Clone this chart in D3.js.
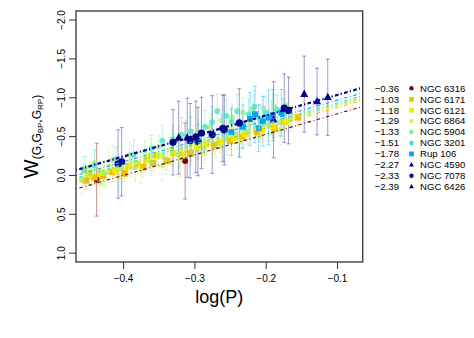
<!DOCTYPE html>
<html>
<head>
<meta charset="utf-8">
<script src="https://cdn.jsdelivr.net/npm/d3@7"></script>
<style>
  body { margin: 0; background: #fff; }
  text { font-family: "Liberation Sans", Arial, Helvetica, sans-serif; fill: #000; }
</style>
</head>
<body>
<svg id="chart" width="474" height="338"></svg>
<script>
// Globular clusters, their metallicity and drawing style
const clusterNames  = ["NGC 6316", "NGC 6171", "NGC 6121", "NGC 6864", "NGC 5904",
                       "NGC 3201", "Rup 106", "NGC 4590", "NGC 7078", "NGC 6426"];
const clusterFeH    = [-0.36, -1.03, -1.18, -1.29, -1.33, -1.51, -1.78, -2.27, -2.33, -2.39];
const clusterColors = ["#7f0000", "#f0c000", "#eeee00", "#c4f07c", "#8fe88f",
                       "#3ee0c4", "#12a2ea", "#0000aa", "#06068e", "#00007a"];
const clusterShapes = ["circle", "square", "square", "circle", "circle",
                       "circle", "square", "triangle", "circle", "triangle"];

// Period–Wesenheit fit per cluster: W = fitZero + fitSlope * log(P)
const fitZero  = [-1.05, -1.13, -1.15, -1.165, -1.17, -1.19, -1.225, -1.285, -1.293, -1.30];
const fitSlope = -2.64;

// Axis ticks
const xTicks = [-0.4, -0.3, -0.2, -0.1];
const yTicks = [-2.0, -1.5, -1.0, -0.5, 0.0, 0.5, 1.0];

// Stars: [log(P), W, error]
const ngc6316 = [[-0.437, 0.06, 0.47], [-0.313, -0.18, 0.49]];
const ngc6171 = [
  [-0.452, 0.07, 0.12], [-0.440, 0.03, 0.10], [-0.428, 0.01, 0.14], [-0.415, -0.04, 0.12],
  [-0.398, -0.02, 0.10], [-0.372, -0.10, 0.13], [-0.358, -0.15, 0.11], [-0.338, -0.18, 0.12],
  [-0.305, -0.28, 0.10], [-0.272, -0.38, 0.12], [-0.250, -0.44, 0.11], [-0.233, -0.48, 0.13],
  [-0.212, -0.55, 0.10], [-0.188, -0.60, 0.12], [-0.155, -0.74, 0.11]];
const ngc6121 = [
  [-0.447, -0.02, 0.15], [-0.430, -0.03, 0.14], [-0.410, -0.06, 0.16], [-0.392, -0.11, 0.12],
  [-0.380, -0.14, 0.15], [-0.366, -0.20, 0.13], [-0.352, -0.25, 0.14], [-0.330, -0.28, 0.15],
  [-0.318, -0.25, 0.12], [-0.296, -0.36, 0.16], [-0.284, -0.40, 0.14], [-0.264, -0.42, 0.13],
  [-0.244, -0.48, 0.15], [-0.228, -0.53, 0.14], [-0.205, -0.58, 0.12], [-0.190, -0.63, 0.15],
  [-0.172, -0.68, 0.14]];
const ngc6864 = [
  [-0.458, 0.06, 0.18], [-0.445, -0.06, 0.20], [-0.432, 0.10, 0.16], [-0.420, -0.12, 0.22],
  [-0.405, 0.02, 0.18], [-0.388, -0.18, 0.20], [-0.375, -0.06, 0.17], [-0.362, -0.26, 0.21],
  [-0.345, -0.12, 0.19], [-0.333, -0.34, 0.18], [-0.320, -0.20, 0.22], [-0.302, -0.44, 0.20],
  [-0.290, -0.28, 0.17], [-0.276, -0.52, 0.21], [-0.262, -0.36, 0.19], [-0.248, -0.60, 0.18],
  [-0.236, -0.44, 0.22], [-0.222, -0.66, 0.20], [-0.208, -0.50, 0.17], [-0.195, -0.72, 0.21],
  [-0.180, -0.58, 0.19], [-0.165, -0.78, 0.18]];
const ngc5904 = [
  [-0.452, -0.10, 0.14], [-0.440, -0.16, 0.16], [-0.426, -0.03, 0.15], [-0.414, -0.20, 0.18],
  [-0.402, -0.08, 0.13], [-0.391, -0.26, 0.16], [-0.383, -0.10, 0.19], [-0.370, -0.30, 0.15],
  [-0.360, -0.16, 0.17], [-0.350, -0.36, 0.14], [-0.341, -0.20, 0.18], [-0.331, -0.42, 0.16],
  [-0.322, -0.26, 0.15], [-0.312, -0.50, 0.20], [-0.304, -0.30, 0.17], [-0.295, -0.56, 0.15],
  [-0.286, -0.34, 0.19], [-0.278, -0.62, 0.16], [-0.270, -0.40, 0.18], [-0.262, -0.70, 0.15],
  [-0.255, -0.46, 0.20], [-0.247, -0.74, 0.17], [-0.240, -0.50, 0.16], [-0.232, -0.80, 0.19],
  [-0.225, -0.55, 0.15], [-0.218, -0.84, 0.18], [-0.210, -0.60, 0.17], [-0.203, -0.86, 0.16],
  [-0.196, -0.64, 0.20], [-0.188, -0.88, 0.15], [-0.180, -0.68, 0.18], [-0.172, -0.90, 0.17],
  [-0.165, -0.72, 0.16]];
const ngc3201 = [
  [-0.455, -0.06, 0.18], [-0.440, -0.12, 0.20], [-0.410, -0.20, 0.16], [-0.385, -0.26, 0.19],
  [-0.360, -0.34, 0.17], [-0.345, -0.44, 0.20], [-0.330, -0.46, 0.18], [-0.318, -0.52, 0.22],
  [-0.305, -0.56, 0.19], [-0.295, -0.48, 0.17], [-0.285, -0.62, 0.21], [-0.275, -0.68, 0.20],
  [-0.268, -0.82, 0.22], [-0.262, -0.60, 0.18], [-0.255, -0.76, 0.21], [-0.248, -0.68, 0.19],
  [-0.240, -0.82, 0.22], [-0.232, -0.64, 0.18], [-0.224, -0.78, 0.20], [-0.216, -0.88, 0.21],
  [-0.208, -0.72, 0.19], [-0.200, -0.80, 0.20], [-0.192, -0.74, 0.22], [-0.184, -0.84, 0.19],
  [-0.176, -0.78, 0.20]];
const rup106 = [
  [-0.248, -0.55, 0.30], [-0.232, -0.62, 0.28], [-0.222, -0.72, 0.34], [-0.215, -0.78, 0.36],
  [-0.210, -0.60, 0.30], [-0.204, -0.69, 0.32], [-0.196, -0.74, 0.35], [-0.190, -0.77, 0.33],
  [-0.178, -0.80, 0.30]];
const ngc4590 = [[-0.310, -0.48, 0.51], [-0.189, -0.71, 0.49], [-0.128, -0.945, 0.43]];
const ngc7078 = [
  [-0.407, -0.14, 0.44], [-0.402, -0.17, 0.44], [-0.330, -0.42, 0.42], [-0.306, -0.44, 0.48],
  [-0.298, -0.49, 0.46], [-0.295, -0.43, 0.44], [-0.290, -0.54, 0.46], [-0.275, -0.52, 0.50],
  [-0.260, -0.60, 0.43], [-0.258, -0.58, 0.45], [-0.237, -0.67, 0.44], [-0.174, -0.86, 0.44],
  [-0.168, -0.83, 0.43]];
const ngc6426 = [[-0.322, -0.48, 0.47], [-0.146, -1.04, 0.49], [-0.113, -1.00, 0.49]];

const clusterStars = [ngc6316, ngc6171, ngc6121, ngc6864, ngc5904,
                      ngc3201, rup106, ngc4590, ngc7078, ngc6426];

// ---- layout ----
const svg = d3.select("#chart");
const plot = { left: 76, right: 362.7, top: 11, bottom: 262 };

const x = d3.scaleLinear().domain([-0.466, -0.064]).range([plot.left, plot.right]);
const y = d3.scaleLinear().domain([1.12, -2.11]).range([plot.bottom, plot.top]);

svg.append("defs").append("clipPath").attr("id", "plotClip")
  .append("rect").attr("x", plot.left).attr("y", plot.top)
  .attr("width", plot.right - plot.left).attr("height", plot.bottom - plot.top);

const body = svg.append("g").attr("clip-path", "url(#plotClip)");

// Symbol generators (pch 15/16/17 style)
function symbolPath(shape, s) {
  if (shape === "square") return `M${-s},${-s}h${2 * s}v${2 * s}h${-2 * s}Z`;
  if (shape === "triangle") return `M0,${-s * 1.15}L${s},${s * 0.7}L${-s},${s * 0.7}Z`;
  return d3.symbol(d3.symbolCircle, Math.PI * s * s)();
}
const markSize = [3.0, 3.3, 3.3, 2.7, 2.7, 2.9, 3.0, 4.0, 3.6, 4.0];
const markAlpha = [1, 1, 1, 0.7, 0.7, 0.75, 1, 1, 1, 1];
const barAlpha  = [0.45, 0.3, 0.3, 0.35, 0.35, 0.35, 0.4, 0.4, 0.4, 0.4];

// Error bars
clusterStars.forEach((stars, i) => {
  const g = body.append("g")
    .attr("stroke", clusterColors[i]).attr("stroke-opacity", barAlpha[i])
    .attr("stroke-width", 1).attr("fill", "none");
  g.selectAll("path").data(stars).join("path")
    .attr("d", d => {
      const px = x(d[0]), y0 = y(d[1] - d[2]), y1 = y(d[1] + d[2]);
      return `M${px},${y0}V${y1}M${px - 2},${y0}H${px + 2}M${px - 2},${y1}H${px + 2}`;
    });
});

// Stars
clusterStars.forEach((stars, i) => {
  body.append("g").selectAll("path").data(stars).join("path")
    .attr("transform", d => `translate(${x(d[0])},${y(d[1])})`)
    .attr("d", symbolPath(clusterShapes[i], markSize[i]))
    .attr("fill", clusterColors[i])
    .attr("fill-opacity", markAlpha[i]);
});

// Fitted relations
const [xa, xb] = x.domain();
clusterNames.forEach((name, i) => {
  body.append("line")
    .attr("x1", x(xa)).attr("y1", y(fitZero[i] + fitSlope * xa))
    .attr("x2", x(xb)).attr("y2", y(fitZero[i] + fitSlope * xb))
    .attr("stroke", clusterColors[i]).attr("stroke-width", 1.1)
    .attr("stroke-dasharray", "1,2.5,3.5,2.5");
});

// Frame
svg.append("rect")
  .attr("x", plot.left).attr("y", plot.top)
  .attr("width", plot.right - plot.left).attr("height", plot.bottom - plot.top)
  .attr("fill", "none").attr("stroke", "#333").attr("stroke-width", 1.3);

// Axes
const fmt1 = d3.format(".1f");
const fmt2 = d3.format(".2f");
const xAxis = svg.append("g").attr("transform", `translate(0,${plot.bottom})`)
  .call(d3.axisBottom(x).tickValues(xTicks).tickSize(7).tickPadding(6).tickFormat(fmt1));
xAxis.select(".domain").remove();
xAxis.selectAll("line").attr("stroke", "#333");
xAxis.selectAll("text").attr("font-size", 10).attr("font-family", "Liberation Sans, Arial, sans-serif");

const yAxis = svg.append("g").attr("transform", `translate(${plot.left},0)`)
  .call(d3.axisLeft(y).tickValues(yTicks).tickSize(7).tickFormat(fmt1));
yAxis.select(".domain").remove();
yAxis.selectAll("line").attr("stroke", "#333");
yAxis.selectAll("text")
  .attr("x", null).attr("dy", null)
  .attr("text-anchor", "middle")
  .attr("transform", "translate(-11,0) rotate(-90)")
  .attr("font-size", 10).attr("font-family", "Liberation Sans, Arial, sans-serif");

// Axis titles
svg.append("text")
  .attr("x", (plot.left + plot.right) / 2).attr("y", 303)
  .attr("text-anchor", "middle").attr("font-size", 18)
  .text("log(P)");

const yt = svg.append("text")
  .attr("transform", `translate(38,${(plot.top + plot.bottom) / 2}) rotate(-90)`)
  .attr("text-anchor", "middle");
yt.append("tspan").attr("font-size", 20).text("W");
yt.append("tspan").attr("font-size", 12).attr("dy", 3).text("(G,G");
yt.append("tspan").attr("font-size", 8).attr("dy", 1.5).text("BP");
yt.append("tspan").attr("font-size", 12).attr("dy", -1.5).text(",G");
yt.append("tspan").attr("font-size", 8).attr("dy", 1.5).text("RP");
yt.append("tspan").attr("font-size", 12).attr("dy", -1.5).text(")");

// Legend
const legend = svg.append("g");
const rowY = i => 88.3 + i * 10.93;
legend.selectAll("text.feh").data(clusterFeH).join("text")
  .attr("class", "feh")
  .attr("x", 399).attr("y", (d, i) => rowY(i)).attr("dy", "0.35em")
  .attr("text-anchor", "end").attr("font-size", 9.6)
  .text(d => fmt2(d));
legend.selectAll("path").data(clusterNames).join("path")
  .attr("transform", (d, i) => `translate(411.5,${rowY(i)})`)
  .attr("d", (d, i) => symbolPath(clusterShapes[i], clusterShapes[i] === "circle" ? 2.2 : 2.4))
  .attr("fill", (d, i) => clusterColors[i]);
legend.selectAll("text.name").data(clusterNames).join("text")
  .attr("class", "name")
  .attr("x", 420).attr("y", (d, i) => rowY(i)).attr("dy", "0.35em")
  .attr("font-size", 9.6)
  .text(d => d);
</script>
</body>
</html>
